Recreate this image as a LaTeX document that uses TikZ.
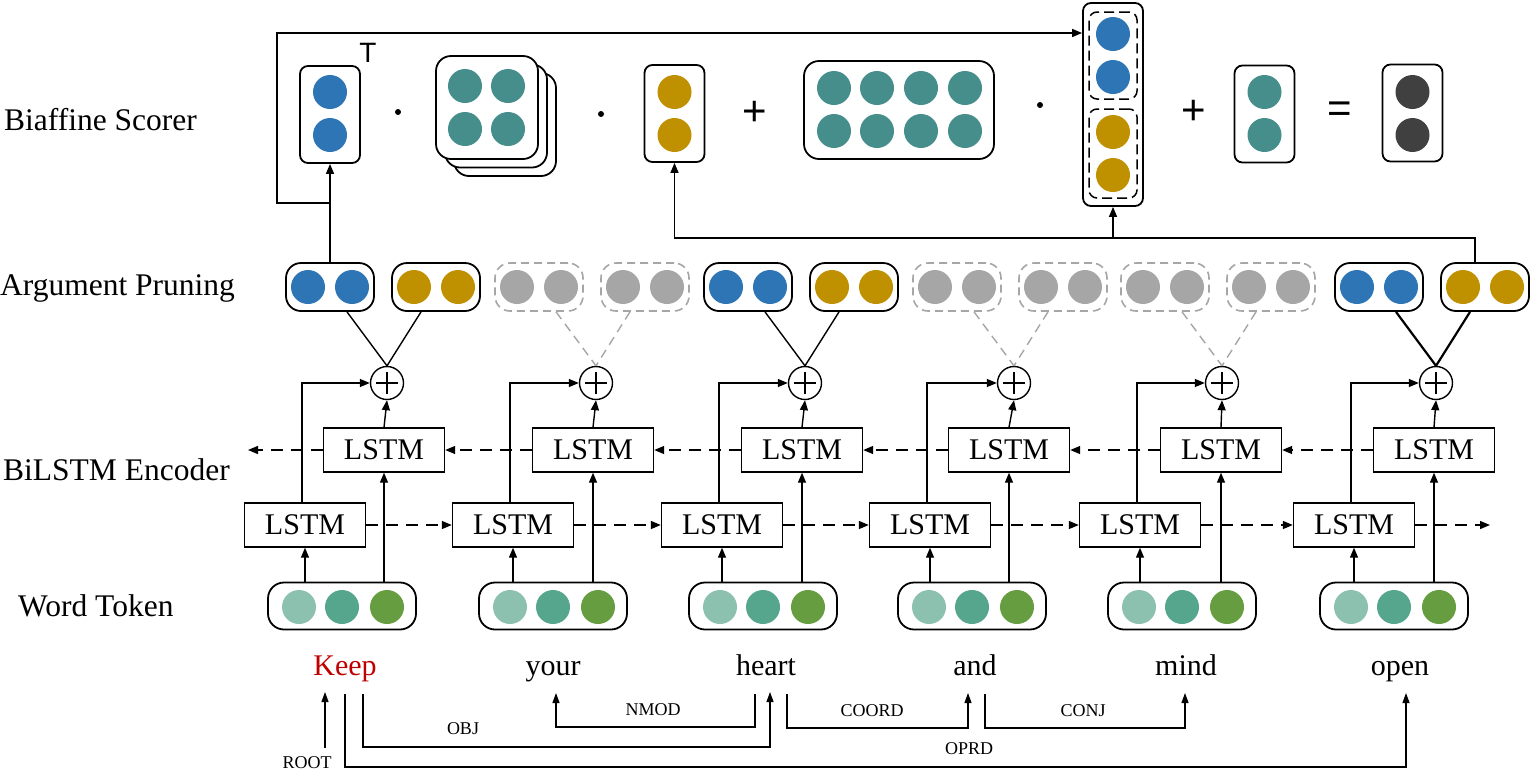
\documentclass[tikz,border=0pt]{standalone}
\usepackage{fontspec}
\setmainfont{Liberation Serif}
\newfontfamily\sansf{Liberation Sans}
\usetikzlibrary{arrows.meta,calc}
\definecolor{cblue}{HTML}{2E75B6}
\definecolor{cgold}{HTML}{BF9000}
\definecolor{cteal}{HTML}{458E8B}
\definecolor{cdark}{HTML}{404040}
\definecolor{cgray}{HTML}{A6A6A6}
\definecolor{cw1}{HTML}{8CC1B0}
\definecolor{cw2}{HTML}{56A68D}
\definecolor{cw3}{HTML}{669D40}
\definecolor{cred}{HTML}{C00000}
\begin{document}
\begin{tikzpicture}[x=1pt,y=-1pt,
  arr/.style={-{Triangle[length=10pt,width=8pt]}, line width=1.4pt},
  darr/.style={-{Triangle[length=10pt,width=7pt]}, line width=1.2pt},
  dasharr/.style={arr, dash pattern=on 12pt off 8pt},
  lstm/.style={draw, line width=1.4pt, minimum width=121pt, minimum height=44pt, inner sep=0pt, font=\fontsize{30}{36}\selectfont},
  vec/.style={draw, line width=1.8pt, rounded corners=8pt, minimum width=60pt, minimum height=97pt, inner sep=0pt},
  pbox/.style={draw, line width=1.8pt, rounded corners=15pt, minimum width=88pt, minimum height=48pt, inner sep=0pt},
  gbox/.style={draw=cgray, dash pattern=on 8pt off 5pt, line width=1.6pt, rounded corners=15pt, minimum width=88pt, minimum height=48pt, inner sep=0pt},
  wbox/.style={draw, line width=1.8pt, rounded corners=16pt, minimum width=148pt, minimum height=47pt, inner sep=0pt},
  oplus/.style={draw, circle, line width=1.4pt, minimum size=33pt, inner sep=0pt,
    path picture={\draw[line width=1.8pt] ([xshift=-11pt]path picture bounding box.center) -- ([xshift=11pt]path picture bounding box.center) ([yshift=-11pt]path picture bounding box.center) -- ([yshift=11pt]path picture bounding box.center);}},
  lab/.style={inner sep=0pt, font=\fontsize{31.5}{36}\selectfont},
  wordf/.style={inner sep=0pt, font=\fontsize{30}{36}\selectfont},
  deplab/.style={inner sep=0pt, font=\fontsize{18}{22}\selectfont},
  sym/.style={inner sep=0pt, font=\sansf\fontsize{42}{42}\selectfont},
  dotn/.style={circle, fill, minimum size=6pt, inner sep=0pt},
]
\useasboundingbox (0,0) rectangle (1533,772);

% layer labels
\node[lab,anchor=west] (lb1) at (4,120) {Biaffine Scorer};
\node[lab,anchor=west] (lb2) at (0,288) {Argument Pruning};
\node[lab,anchor=west] (lb3) at (3,470) {BiLSTM Encoder};
\node[lab,anchor=west] (lb4) at (18,606) {Word Token};

% columns
\foreach \i/\lx/\ux/\ox/\wx in {1/305/384/387/342, 2/513/593/596/553, 3/722/802/805/763, 4/930/1009/1014/972, 5/1140/1221/1222/1182, 6/1354/1434/1436/1394}{
  \node[wbox] (w\i) at (\wx,606) {};
  \fill[cw1] (\wx-43,607) circle[radius=17];
  \fill[cw2] (\wx,607) circle[radius=17];
  \fill[cw3] (\wx+45,607) circle[radius=17];
  \node[lstm] (l\i) at (\lx,525) {LSTM};
  \node[lstm] (u\i) at (\ux,450) {LSTM};
  \node[oplus] (o\i) at (\ox,383) {};
  \draw[arr] (l\i.south |- w\i.north) -- (l\i.south);
  \draw[arr] (u\i.south |- w\i.north) -- (u\i.south);
  \draw[arr] ([xshift=-3pt]l\i.north) |- (o\i.west);
  \draw[arr] (u\i.north) -- (o\i.south);
}

% recurrent connections
\coordinate (bend) at (248,450);
\coordinate (fend) at (1490,525);
\draw[dasharr] (u1.west) -- (bend);
\foreach \i [evaluate=\i as \j using int(\i-1)] in {2,...,6}{
  \draw[dasharr] (u\i.west) -- (u\j.east);
}
\foreach \i [evaluate=\i as \j using int(\i+1)] in {1,...,5}{
  \draw[dasharr] (l\i.east) -- (l\j.west);
}
\draw[dasharr] (l6.east) -- (fend);

% argument pruning: kept
\foreach \i/\ox/\lw in {1/387/1.4, 3/805/1.4, 6/1436/2.2}{
  \node[pbox] (pb\i) at (\ox-57,287) {};
  \node[pbox] (py\i) at (\ox+49,287) {};
  \fill[cblue] (\ox-79,287) circle[radius=17];
  \fill[cblue] (\ox-35,287) circle[radius=17];
  \fill[cgold] (\ox+27,287) circle[radius=17];
  \fill[cgold] (\ox+71,287) circle[radius=17];
  \draw[line width=\lw pt] ([xshift=17pt]pb\i.south) -- (o\i.north);
  \draw[line width=\lw pt] ([xshift=-15pt]py\i.south) -- (o\i.north);
}
% argument pruning: pruned
\foreach \i/\ox in {2/596, 4/1014, 5/1222}{
  \node[gbox] (pb\i) at (\ox-57,287) {};
  \node[gbox] (py\i) at (\ox+49,287) {};
  \fill[cgray] (\ox-79,287) circle[radius=17];
  \fill[cgray] (\ox-35,287) circle[radius=17];
  \fill[cgray] (\ox+27,287) circle[radius=17];
  \fill[cgray] (\ox+71,287) circle[radius=17];
  \draw[cgray, line width=1.4pt, dash pattern=on 9pt off 6pt] ([xshift=17pt]pb\i.south) -- (o\i.north);
  \draw[cgray, line width=1.4pt, dash pattern=on 9pt off 6pt] ([xshift=-15pt]py\i.south) -- (o\i.north);
}

% biaffine scorer
\node[vec] (bv) at (330,114.5) {};
\fill[cblue] (330,92) circle[radius=17];
\fill[cblue] (330,135) circle[radius=17];
\node[inner sep=0pt, font=\sansf\fontsize{28}{28}\selectfont] (tp) at (368,53) {T};
\node[dotn] (d1) at (398,112) {};

\node[vec, fill=white, rounded corners=15pt, minimum width=102pt, minimum height=103pt] (st3) at (505,124.5) {};
\node[vec, fill=white, rounded corners=15pt, minimum width=102pt, minimum height=103pt] (st2) at (496,116) {};
\node[vec, fill=white, rounded corners=15pt, minimum width=102pt, minimum height=103pt] (st1) at (487,107.5) {};
\foreach \cx in {465,508}{\foreach \cy in {86,129}{\fill[cteal] (\cx,\cy) circle[radius=17];}}
\node[dotn] (d2) at (601,114) {};

\node[vec] (yv) at (674.5,113.5) {};
\fill[cgold] (674.5,92) circle[radius=17];
\fill[cgold] (674.5,135) circle[radius=17];
\node[sym] (p1) at (755,113) {+};

\node[vec, rounded corners=15pt, minimum width=190pt, minimum height=98pt] (mat) at (899,110) {};
\foreach \cx in {834,877,921,965}{\foreach \cy in {88,131}{\fill[cteal] (\cx,\cy) circle[radius=17];}}
\node[dotn] (d3) at (1040,105) {};

\node[vec, minimum height=203pt] (cc) at (1113,104.5) {};
\node[draw, dash pattern=on 10pt off 5pt, line width=1.5pt, rounded corners=8pt, minimum width=48pt, minimum height=87pt, inner sep=0pt] (ch) at (1113,55.5) {};
\node[draw, dash pattern=on 10pt off 5pt, line width=1.5pt, rounded corners=8pt, minimum width=48pt, minimum height=89pt, inner sep=0pt] (cd) at (1113,153.5) {};
\fill[cblue] (1113,34) circle[radius=17];
\fill[cblue] (1113,77) circle[radius=17];
\fill[cgold] (1113,132) circle[radius=17];
\fill[cgold] (1113,175) circle[radius=17];
\node[sym] (p2) at (1194,112) {+};

\node[vec] (tv) at (1264.5,114) {};
\fill[cteal] (1264.5,92) circle[radius=17];
\fill[cteal] (1264.5,135) circle[radius=17];
\node[sym] (eq) at (1340,112) {=};

\node[vec] (dv) at (1412.5,113) {};
\fill[cdark] (1412.5,92) circle[radius=17];
\fill[cdark] (1412.5,135) circle[radius=17];

% connections to biaffine
\draw[arr] (pb1.north) -- (bv.south);
\coordinate (bj) at (pb1.north |- 0,203);
\draw[arr] (bj) -| (277,33) -- (cc.west |- 0,33);
\coordinate (rj) at (cc.south |- 0,238);
\draw[arr] ([xshift=-10pt]py6.north) |- (yv.south |- 0,238) -- (yv.south);
\draw[arr] (rj) -- (cc.south);

% words
\node[wordf, anchor=base, text=cred] (keep) at (345,675) {Keep};
\node[wordf, anchor=base] (your) at (553,675) {your};
\node[wordf, anchor=base] (heart) at (766,675) {heart};
\node[wordf, anchor=base] (and) at (975,675) {and};
\node[wordf, anchor=base] (mind) at (1186,675) {mind};
\node[wordf, anchor=base] (open) at (1400,675) {open};

% dependency arcs
\draw[darr] ($(keep.base)+(-20,73)$) -- ($(keep.base)+(-20,17)$);
\draw[darr] ($(keep.base)+(18,19)$) |- ($(heart.base)+(4,72)$) -- ($(heart.base)+(4,17)$);
\draw[darr] ($(keep.base)+(0,19)$) |- ($(open.base)+(6,92)$) -- ($(open.base)+(6,18)$);
\draw[darr] ($(heart.base)+(-11,19)$) |- ($(your.base)+(3,52)$) -- ($(your.base)+(3,18)$);
\draw[darr] ($(heart.base)+(21,19)$) |- ($(and.base)+(-7,53)$) -- ($(and.base)+(-7,18)$);
\draw[darr] ($(and.base)+(10,19)$) |- ($(mind.base)+(-1,53)$) -- ($(mind.base)+(-1,18)$);

\node[deplab] (lroot) at (307,763) {ROOT};
\node[deplab] (lobj) at (463,729) {OBJ};
\node[deplab] (loprd) at (969,749) {OPRD};
\node[deplab] (lnmod) at (653,710) {NMOD};
\node[deplab] (lcoord) at (872,711) {COORD};
\node[deplab] (lconj) at (1083,711) {CONJ};
\end{tikzpicture}
\end{document}
